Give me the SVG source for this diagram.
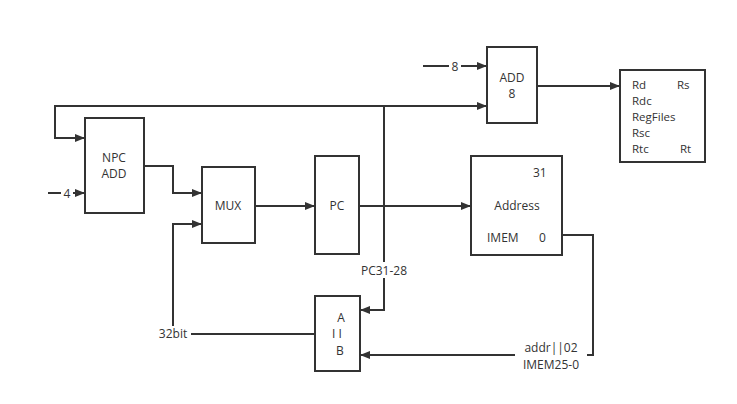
<svg xmlns="http://www.w3.org/2000/svg" width="737" height="404" viewBox="0 0 737 404">
<defs><marker id="a" markerWidth="10" markerHeight="8" refX="10" refY="4" orient="auto" markerUnits="userSpaceOnUse"><path d="M0,0L10,4L0,8z" fill="#333"/></marker></defs>
<style>rect{fill:#fff;stroke:#333;stroke-width:2}rect.bg{stroke:none}text{font-family:"Open Sans","Liberation Sans",sans-serif;font-size:12px;fill:#333}.s{font-size:11.5px}.c path{fill:none;stroke:#333;stroke-width:2}.m{text-anchor:middle}</style>
<rect class="bg" width="737" height="404"/>
<g class="c">
<path d="M384,106H55V138H85" marker-end="url(#a)"/>
<path d="M384,106H487" marker-end="url(#a)"/>
<path d="M384,106V310H360" marker-end="url(#a)"/>
<path d="M423,66H487" marker-end="url(#a)"/>
<path d="M537,86H620" marker-end="url(#a)"/>
<path d="M48,193H85" marker-end="url(#a)"/>
<path d="M144,166H173V193H202" marker-end="url(#a)"/>
<path d="M315,334H173V224H202" marker-end="url(#a)"/>
<path d="M255,206H315" marker-end="url(#a)"/>
<path d="M359,206H471" marker-end="url(#a)"/>
<path d="M562,235H593V355H360" marker-end="url(#a)"/>
</g>
<rect class="bg" x="355" y="262" width="58" height="16"/>
<text x="384" y="275" class="m">PC31-28</text>
<rect class="bg" x="155" y="326" width="36" height="16"/>
<text x="173" y="338" class="m">32bit</text>
<rect class="bg" x="515" y="340" width="72" height="32"/>
<text x="551" y="352" class="m">addr||02</text>
<text x="551" y="369" class="m">IMEM25-0</text>
<rect class="bg" x="61" y="186" width="12" height="14"/>
<text x="67" y="198" class="m">4</text>
<rect class="bg" x="449" y="59" width="12" height="14"/>
<text x="455" y="71" class="m">8</text>
<g id="npc"><rect x="85" y="118" width="59" height="95"/><text x="114" y="162" class="m">NPC</text><text x="114" y="178" class="m">ADD</text></g>
<g id="mux"><rect x="202" y="167" width="53" height="76"/><text x="228" y="210" class="m">MUX</text></g>
<g id="pc"><rect x="315" y="156" width="44" height="98"/><text x="337" y="210" class="m">PC</text></g>
<g id="add8"><rect x="487" y="47" width="50" height="76"/><text x="512" y="82" class="m">ADD</text><text x="512" y="98" class="m">8</text></g>
<g id="imem"><rect x="471" y="156" width="91" height="99"/><text x="533" y="177">31</text><text x="517" y="210" class="m">Address</text><text x="487" y="242">IMEM</text><text x="539" y="242">0</text></g>
<g id="reg" class="s"><rect x="620" y="70" width="85" height="92"/><text class="s" x="632" y="89">Rd</text><text class="s" x="677" y="89">Rs</text><text class="s" x="632" y="105">Rdc</text><text class="s" x="632" y="121">RegFiles</text><text class="s" x="632" y="137">Rsc</text><text class="s" x="632" y="153">Rtc</text><text class="s" x="680" y="153">Rt</text></g>
<g id="aiib"><rect x="315" y="296" width="45" height="75"/><text x="341" y="322" class="m">A</text><text x="337" y="338" class="m">I I</text><text x="340" y="355" class="m">B</text></g>
</svg>
